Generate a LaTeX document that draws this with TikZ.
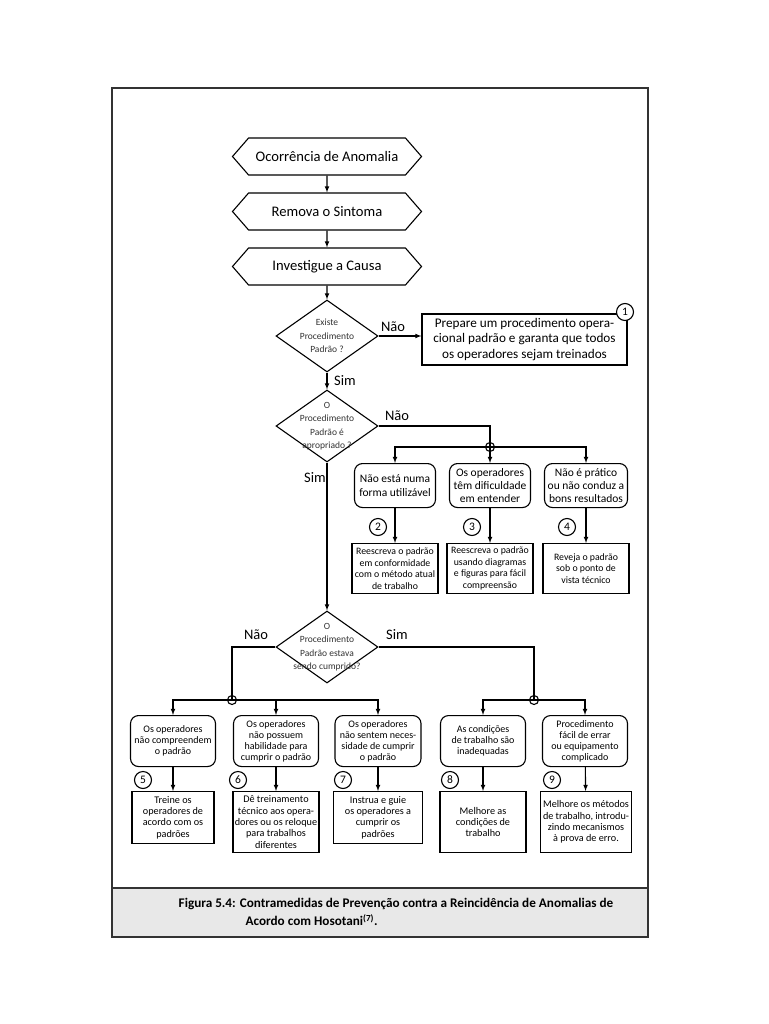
\documentclass[tikz,border=0pt]{standalone}
\usepackage{fontspec}
\setmainfont{Carlito}
\usetikzlibrary{shapes.geometric,shapes.symbols}

\begin{document}
\begin{tikzpicture}[x=1pt,y=-1pt,>=latex,line width=1.1pt,
    hexa/.style={draw,shape=signal,signal to=west and east,signal pointer angle=98,
        minimum width=189pt,minimum height=37pt,inner sep=0pt,font=\fontsize{14.6}{16}\selectfont},
    decision/.style={draw,shape=diamond,minimum width=102pt,minimum height=72pt,inner sep=0pt},
    qtext/.style={align=center,inner sep=0pt,text=black!80,font=\fontsize{9.5}{13.5}\selectfont},
    rbox/.style={draw,rounded corners=8pt,align=center,inner xsep=0pt,inner ysep=1pt,minimum width=#1},
    act/.style={draw,rectangle,align=center,inner xsep=0pt,inner ysep=1pt,minimum width=#1},
    num/.style={draw,circle,fill=white,minimum size=17pt,inner sep=0pt,font=\fontsize{11.5}{11.5}\selectfont},
    jn/.style={draw,circle,minimum size=9pt,inner sep=0pt},
    lab/.style={inner sep=0pt,font=\fontsize{14.5}{14.5}\selectfont}]
    % page and frame
    \fill[white] (0,0) rectangle (768,1024);
    \useasboundingbox (0,0) rectangle (768,1024);
    \fill[black!9] (112,888) rectangle (648,937);
    \draw[line width=1.7pt,black!80] (112,88) rectangle (648,937);
    \draw[line width=1.7pt,black!80] (112,888) -- (648,888);

    % main sequence
    \node[hexa] (h1) at (327,156.5) {Ocorrência de Anomalia};
    \node[hexa] (h2) at (327,211.5) {Remova o Sintoma};
    \node[hexa] (h3) at (327,266.5) {Investigue a Causa};
    \node[decision] (q1) at (327,336) {};
    \node[qtext] (t1) at (q1) {Existe\\Procedimento\\Padrão ?};
    \node[act=205pt,minimum height=51pt,font=\fontsize{13.2}{15.5}\selectfont] (p1) at (524.5,339.5)
        {Prepare um procedimento opera-\\cional padrão e garanta que todos\\os operadores sejam treinados};
    \node[num] (n1) at (625,312) {1};
    \node[decision] (q2) at (327,426) {};
    \node[qtext] (t2) at (q2) {O\\Procedimento\\Padrão é\\apropriado ?};
    \node[decision] (q3) at (327,647) {};
    \node[qtext] (t3) at (q3) {O\\Procedimento\\Padrão estava\\sendo cumprido?};

    % labels
    \node[lab] (l1) at (393,327) {Não};
    \node[lab] (l2) at (345,381) {Sim};
    \node[lab] (l3) at (397,416) {Não};
    \node[lab] (l4) at (315,478) {Sim};
    \node[lab] (l5) at (256,635) {Não};
    \node[lab] (l6) at (397,635) {Sim};

    % second level
    \node[jn] (j1) at (490,447) {};
    \node[rbox=81pt,minimum height=44pt,font=\fontsize{11.5}{13.3}\selectfont,anchor=north] (a2) at (395,463)
        {Não está numa\\forma utilizável};
    \node[rbox=81pt,minimum height=44pt,font=\fontsize{11.5}{13.3}\selectfont,anchor=north] (b2) at (490,463)
        {Os operadores\\têm dificuldade\\em entender};
    \node[rbox=83pt,minimum height=44pt,font=\fontsize{11.5}{13.3}\selectfont,anchor=north] (c2) at (586,463)
        {Não é prático\\ou não conduz a\\bons resultados};
    \node[act=86pt,minimum height=50pt,font=\fontsize{9.8}{11.5}\selectfont,anchor=north] (ra2) at (395,543)
        {Reescreva o padrão\\em conformidade\\com o método atual\\de trabalho};
    \node[act=86pt,minimum height=50pt,font=\fontsize{9.8}{11.5}\selectfont,anchor=north] (rb2) at (490,543)
        {Reescreva o padrão\\usando diagramas\\e figuras para fácil\\compreensão};
    \node[act=86pt,minimum height=50pt,font=\fontsize{9.8}{11.5}\selectfont,anchor=north] (rc2) at (586,543)
        {Reveja o padrão\\sob o ponto de\\vista técnico};
    \node[num] (n2) at (378,527) {2};
    \node[num] (n3) at (472,527) {3};
    \node[num] (n4) at (567,527) {4};

    % third level
    \node[jn] (j2) at (232,700) {};
    \node[jn] (j3) at (534,700) {};
    \node[rbox=85pt,minimum height=51pt,font=\fontsize{10}{11}\selectfont,anchor=north] (b5) at (173,715)
        {Os operadores\\não compreendem\\o padrão};
    \node[rbox=85pt,minimum height=51pt,font=\fontsize{10}{11}\selectfont,anchor=north] (b6) at (276,715)
        {Os operadores\\não possuem\\habilidade para\\cumprir o padrão};
    \node[rbox=86pt,minimum height=51pt,font=\fontsize{10}{11}\selectfont,anchor=north] (b7) at (378,715)
        {Os operadores\\não sentem neces-\\sidade de cumprir\\o padrão};
    \node[rbox=85pt,minimum height=51pt,font=\fontsize{10}{11}\selectfont,anchor=north] (b8) at (483,715)
        {As condições\\de trabalho são\\inadequadas};
    \node[rbox=85pt,minimum height=51pt,font=\fontsize{10}{11}\selectfont,anchor=north] (b9) at (585,715)
        {Procedimento\\fácil de errar\\ou equipamento\\complicado};
    \node[act=82pt,minimum height=52pt,font=\fontsize{10.2}{11.4}\selectfont,anchor=north] (r5) at (173,791)
        {Treine os\\operadores de\\acordo com os\\padrões};
    \node[act=86pt,minimum height=61pt,font=\fontsize{10.2}{11.4}\selectfont,anchor=north] (r6) at (276,791)
        {Dê treinamento\\técnico aos opera-\\dores ou os reloque\\para trabalhos\\diferentes};
    \node[act=89pt,minimum height=52pt,font=\fontsize{10.2}{11.4}\selectfont,anchor=north] (r7) at (378,791)
        {Instrua e guie\\os operadores a\\cumprir os\\padrões};
    \node[act=86pt,minimum height=61pt,font=\fontsize{10.2}{11.4}\selectfont,anchor=north] (r8) at (483,791)
        {Melhore as\\condições de\\trabalho};
    \node[act=91pt,minimum height=61pt,font=\fontsize{10.2}{11.4}\selectfont,anchor=north] (r9) at (586,791)
        {Melhore os métodos\\de trabalho, introdu-\\zindo mecanismos\\à prova de erro.};
    \node[num] (n5) at (143,780) {5};
    \node[num] (n6) at (238,780) {6};
    \node[num] (n7) at (343,780) {7};
    \node[num] (n8) at (450,780) {8};
    \node[num] (n9) at (552,780) {9};

    % connectors
    \draw[->] (h1) -- (h2);
    \draw[->] (h2) -- (h3);
    \draw[->] (h3) -- (q1);
    \draw[->] (q1.east) -- (p1.west |- q1.east);
    \draw[->] (q1) -- (q2);
    \draw (q2.east) -| (j1.center);
    \draw[->] (j1.center) -| (a2);
    \draw[->] (j1.center) -- (b2);
    \draw[->] (j1.center) -| (c2);
    \draw[->] (a2) -- (ra2);
    \draw[->] (b2) -- (rb2);
    \draw[->] (c2) -- (rc2);
    \draw[->] (q2) -- (q3);
    \draw (q3.west) -| (j2.center);
    \draw (q3.east) -| (j3.center);
    \draw[->] (j2.center) -| (b5);
    \draw[->] (j2.center) -| (b6);
    \draw[->] (j2.center) -| (b7);
    \draw[->] (j3.center) -| (b8);
    \draw[->] (j3.center) -| (b9);
    \draw[->] (b5) -- (r5);
    \draw[->] (b6) -- (r6);
    \draw[->] (b7) -- (r7);
    \draw[->] (b8) -- (r8);
    \draw[->] (b9) -- (r9);

    % caption
    \node[inner sep=0pt,font=\bfseries\fontsize{13.2}{13}\selectfont] (cap1) at (396,904)
        {Figura 5.4: Contramedidas de Prevenção contra a Reincidência de Anomalias de};
    \node[inner sep=0pt,anchor=west,font=\bfseries\fontsize{13.2}{13}\selectfont] (cap2) at (245,920)
        {Acordo com Hosotani\textsuperscript{(7)}.};
\end{tikzpicture}
\end{document}
